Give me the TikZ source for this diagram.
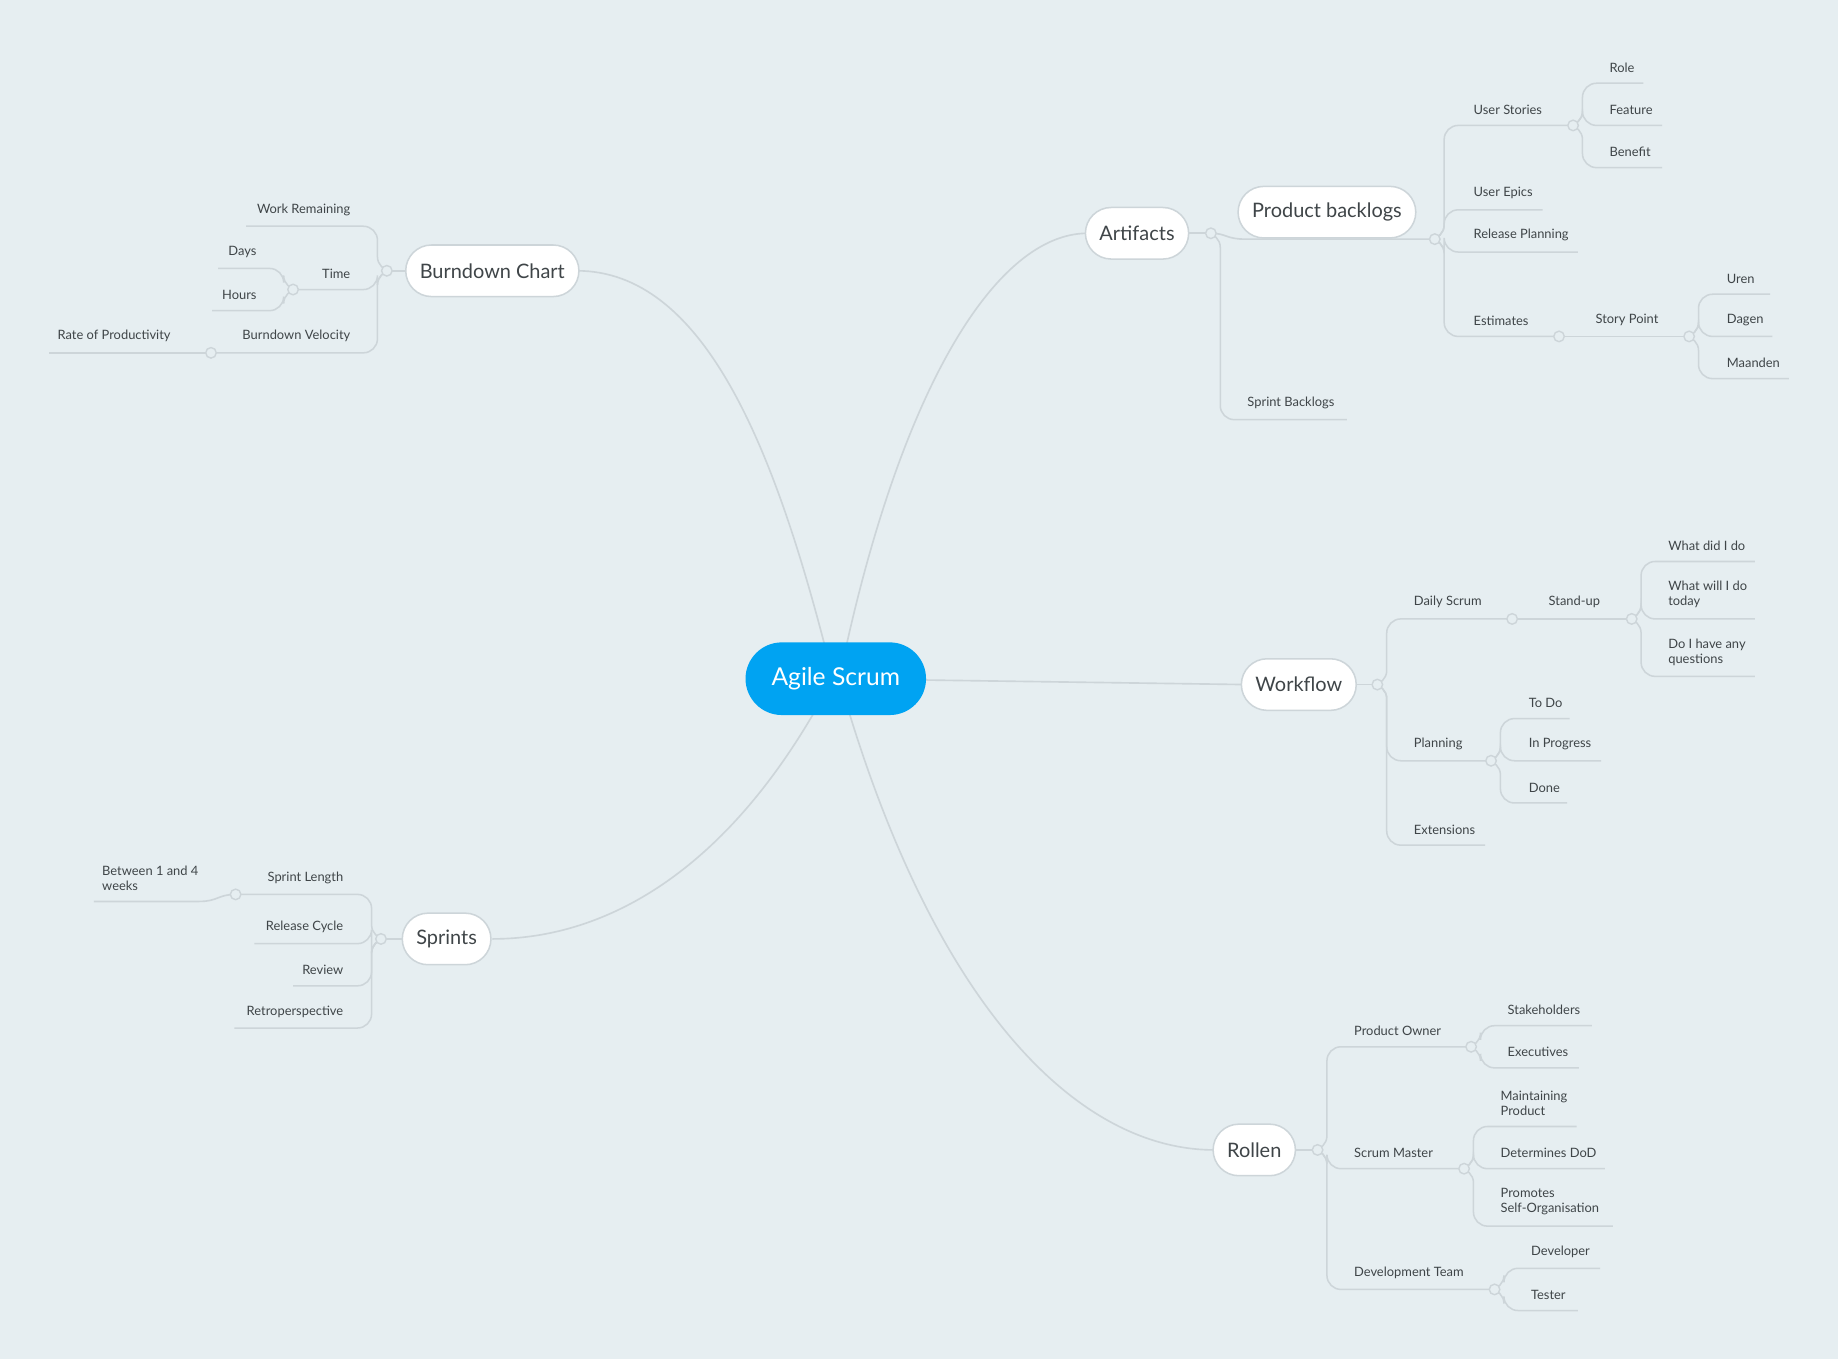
\documentclass[tikz,border=0pt]{standalone}
\usepackage{fontspec}
\setmainfont{Lato}
\definecolor{bg}{HTML}{E6EEF1}
\definecolor{ln}{HTML}{CDD5D9}
\definecolor{tx}{HTML}{3F4548}
\definecolor{blue}{HTML}{00A3F2}
\tikzset{
 br/.style={draw=ln,line width=1.3pt,rounded corners=12pt},
 mc/.style={draw=ln,line width=1.4pt},
 jn/.style={circle,draw=ln,line width=1.2pt,fill=bg,inner sep=0pt,minimum size=9pt},
 lt/.style={font=\fontsize{11}{13}\selectfont,text=tx,inner sep=0pt,align=left},
 topic/.style={draw=ln,line width=1.3pt,fill=white,rounded corners=22pt,minimum height=44pt,font=\fontsize{17}{20}\selectfont,text=tx,inner xsep=12pt}
}
% right leaf: junction, y, text, x2, textx
\newcommand{\rfl}[5]{\draw[br] (#1) -- ++(8,0) |- (#4,#2);\node[lt,anchor=south west] at (#5,#2-9) {#3};}
\newcommand{\lfl}[5]{\draw[br] (#1) -- ++(-8,0) |- (#4,#2);\node[lt,anchor=south east] at (#5,#2-9) {#3};}
\begin{document}
\begin{tikzpicture}[x=1pt,y=-1pt]
\fill[bg] (0,0) rectangle (1568,1159);
\useasboundingbox (0,0) rectangle (1568,1159);
% main curves
\draw[mc] (720,560) .. controls (770,330) and (850,199) .. (928,199);
\draw[mc] (706,560) .. controls (660,380) and (600,231) .. (492,231);
\draw[mc] (780,580) -- (1062,584);
\draw[mc] (699,600) .. controls (620,740) and (520,801) .. (420,801);
\draw[mc] (722,600) .. controls (800,860) and (920,981) .. (1036,981);
\node[fill=blue,rounded corners=31pt,minimum width=154pt,minimum height=62pt,text=white,font=\fontsize{21}{24}\selectfont] (c) at (713,579) {Agile Scrum};
% Artifacts
\coordinate (ja) at (1033,199);
\coordinate (jp) at (1224,204);
\draw[mc] (1014,199) -- (ja);
\draw[mc] (ja) .. controls (1046,199) and (1046,204) .. (1062,204) -- (jp);
\node[topic] (art) at (970,199) {Artifacts};
\node[topic] (pb) at (1132,181) {Product backlogs};
\rfl{ja}{358}{Sprint Backlogs}{1149}{1064}
\coordinate (jus) at (1342,107);
\coordinate (jes) at (1330,287);
\coordinate (jsp) at (1441,287);
\rfl{jp}{107}{User Stories}{1342}{1257}
\rfl{jp}{179}{User Epics}{1316}{1257}
\rfl{jp}{215}{Release Planning}{1346}{1257}
\rfl{jp}{287}{Estimates}{1330}{1257}
\rfl{jus}{71}{Role}{1402}{1373}
\rfl{jus}{107}{Feature}{1418}{1373}
\rfl{jus}{143}{Benefit}{1418}{1373}
\draw[br] (jes) -- (jsp); \node[lt,anchor=south west] at (1361,278) {Story Point};
\rfl{jsp}{251}{Uren}{1510}{1473}
\rfl{jsp}{287}{Dagen}{1512}{1473}
\rfl{jsp}{323}{Maanden}{1526}{1473}
\foreach \j in {ja,jp,jus,jes,jsp} \node[jn] at (\j) {};
% Burndown
\coordinate (jb) at (330,231);
\coordinate (jt) at (250,247);
\coordinate (jv) at (180,301);
\draw[mc] (349,231) -- (jb);
\lfl{jb}{193}{Work Remaining}{210}{299}
\lfl{jb}{247}{Time}{250}{299}
\lfl{jb}{301}{Burndown Velocity}{180}{299}
\lfl{jt}{229}{Days}{186}{219}
\lfl{jt}{265}{Hours}{181}{219}
\draw[br] (jv) -- (42,301); \node[lt,anchor=south west] at (49,292) {Rate of Productivity};
\node[topic] (bc) at (420,231) {Burndown Chart};
\foreach \j in {jb,jt,jv} \node[jn] at (\j) {};
% Workflow
\coordinate (jw) at (1175,584);
\coordinate (jd) at (1290,528);
\coordinate (js) at (1392,528);
\coordinate (jpl) at (1272,649);
\draw[mc] (1155,584) -- (jw);
\node[topic] (wf) at (1108,584) {Workflow};
\rfl{jw}{528}{Daily Scrum}{1290}{1206}
\rfl{jw}{649}{Planning}{1272}{1206}
\rfl{jw}{721}{Extensions}{1267}{1206}
\draw[br] (jd) -- (js); \node[lt,anchor=south west] at (1321,519) {Stand-up};
\rfl{js}{479}{What did I do}{1497}{1423}
\rfl{js}{528}{What will I do\\today}{1497}{1423}
\rfl{js}{577}{Do I have any\\questions}{1497}{1423}
\rfl{jpl}{613}{To Do}{1339}{1304}
\rfl{jpl}{649}{In Progress}{1366}{1304}
\rfl{jpl}{685}{Done}{1337}{1304}
\foreach \j in {jw,jd,js,jpl} \node[jn] at (\j) {};
% Sprints
\coordinate (jsr) at (325,801);
\coordinate (jl) at (201,763);
\draw[mc] (344,801) -- (jsr);
\node[topic] (sp) at (381,801) {Sprints};
\lfl{jsr}{763}{Sprint Length}{201}{293}
\lfl{jsr}{805}{Release Cycle}{217}{293}
\lfl{jsr}{841}{Review}{250}{293}
\lfl{jsr}{877}{Retroperspective}{200}{293}
\draw[mc] (jl) .. controls (186,763) and (186,769) .. (170,769) -- (80,769);
\node[lt,anchor=south west] at (87,760) {Between 1 and 4\\weeks};
\foreach \j in {jsr,jl} \node[jn] at (\j) {};
% Rollen
\coordinate (jr) at (1124,981);
\coordinate (jpo) at (1255,893);
\coordinate (jsm) at (1249,997);
\coordinate (jdt) at (1275,1100);
\draw[mc] (1104,981) -- (jr);
\node[topic] (ro) at (1070,981) {Rollen};
\rfl{jr}{893}{Product Owner}{1255}{1155}
\rfl{jr}{997}{Scrum Master}{1249}{1155}
\rfl{jr}{1100}{Development Team}{1275}{1155}
\rfl{jpo}{875}{Stakeholders}{1358}{1286}
\rfl{jpo}{911}{Executives}{1347}{1286}
\rfl{jsm}{961}{Maintaining\\Product}{1345}{1280}
\rfl{jsm}{997}{Determines DoD}{1369}{1280}
\rfl{jsm}{1046}{Promotes\\Self-Organisation}{1376}{1280}
\rfl{jdt}{1082}{Developer}{1365}{1306}
\rfl{jdt}{1118}{Tester}{1346}{1306}
\foreach \j in {jr,jpo,jsm,jdt} \node[jn] at (\j) {};
\end{tikzpicture}
\end{document}
